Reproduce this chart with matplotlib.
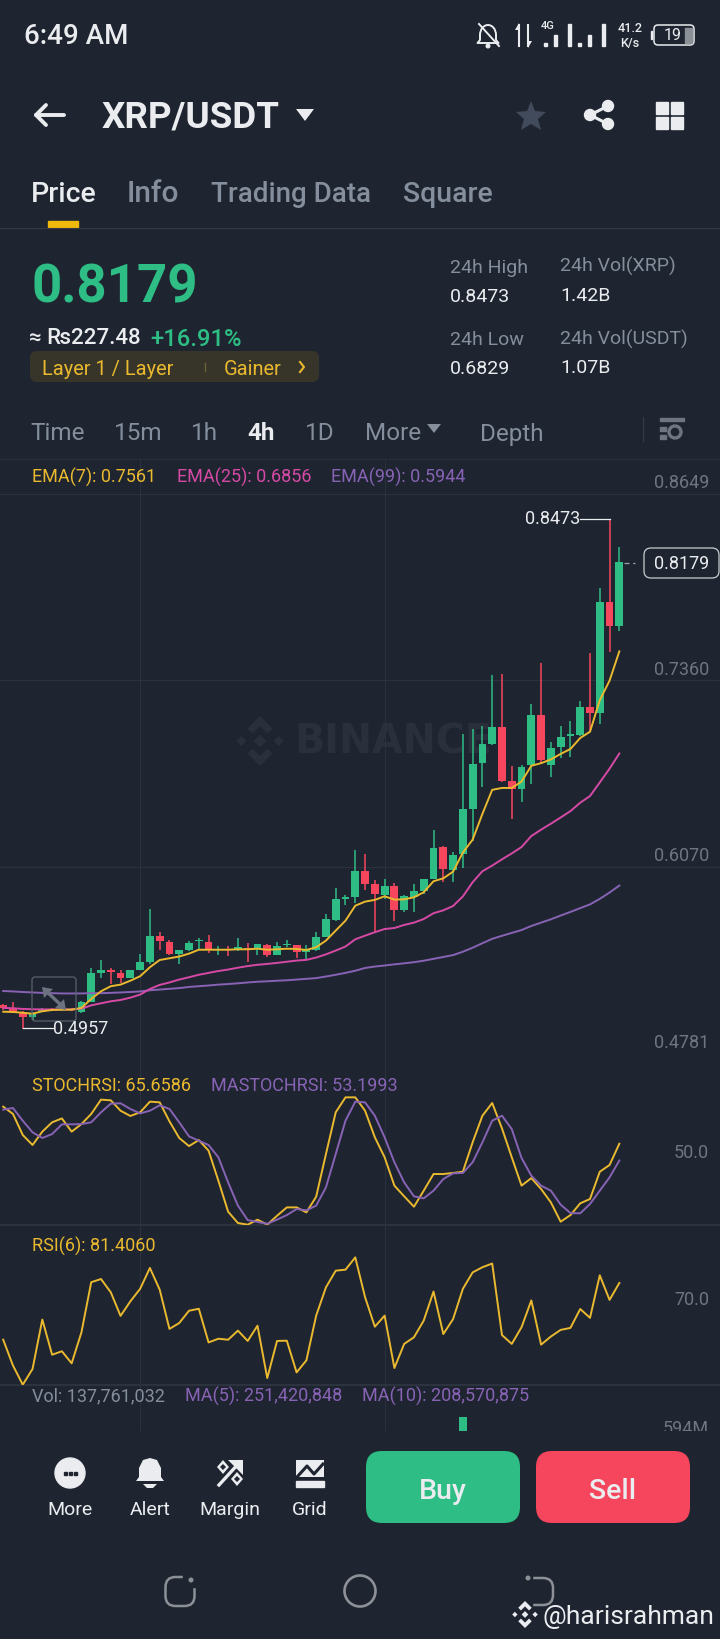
import matplotlib
matplotlib.use("Agg")
import matplotlib.pyplot as plt
from matplotlib.patches import Circle, FancyBboxPatch, Polygon, Rectangle, Arc

# candles, oldest first
opens = [.5116, .5100, .5064, .5037, .5078, .5092, .5085, .5092, .5069, .5138, .5340, .5363, .5343, .5306, .5361, .5414,
         .5594, .5552, .5470, .5499, .5558, .5552, .5497, .5508, .5501, .5515, .5513, .5536, .5465, .5532, .5532, .5486,
         .5497, .5591, .5708, .5851, .5867, .6047, .5957, .5881, .5941, .5773, .5867, .5904, .5990, .6213, .6054, .6159,
         .6473, .6790, .6922, .7040, .6669, .6611, .6779, .7124, .6777, .6899, .6974, .6984, .7178, .7137, .7901, .7737]
highs = [.5126, .5138, .5078, .5071, .5096, .5096, .5096, .5096, .5149, .5375, .5428, .5375, .5363, .5363, .5469, .5783,
         .5626, .5570, .5499, .5561, .5580, .5603, .5529, .5525, .5580, .5550, .5543, .5541, .5557, .5568, .5537, .5536,
         .5622, .5748, .5925, .5881, .6190, .6162, .5985, .5990, .5962, .5879, .5957, .5987, .6330, .6217, .6174, .6988,
         .7027, .7047, .7398, .7408, .6770, .6774, .7200, .7479, .6933, .7047, .7078, .7219, .7551, .7998, .8473, .8279]
lows = [.5085, .5071, .4957, .5016, .5073, .5080, .5080, .5078, .5064, .5138, .5304, .5264, .5271, .5306, .5361, .5403,
        .5499, .5467, .5405, .5492, .5501, .5479, .5465, .5458, .5492, .5414, .5465, .5453, .5465, .5518, .5444, .5435,
        .5492, .5587, .5701, .5810, .5824, .5916, .5617, .5851, .5701, .5764, .5759, .5886, .5990, .5971, .5971, .6064,
        .6253, .6626, .6917, .6662, .6401, .6521, .6644, .6790, .6692, .6823, .6830, .6980, .7002, .7058, .7556, .7704]
closes = [.5102, .5073, .5037, .5060, .5092, .5085, .5092, .5083, .5138, .5340, .5361, .5345, .5308, .5363, .5418, .5596,
          .5559, .5472, .5499, .5550, .5565, .5501, .5506, .5499, .5520, .5508, .5539, .5467, .5527, .5543, .5483, .5508,
          .5591, .5711, .5851, .5863, .6047, .5957, .5884, .5943, .5776, .5874, .5904, .5987, .6206, .6059, .6157, .6470,
          .6784, .6922, .7040, .6669, .6611, .6764, .7124, .6810, .6897, .6969, .6987, .7178, .7137, .7901, .7737, .8179]

ema7 = [.5073, .5071, .5066, .5059, .5076, .5085, .5087, .5087, .5099, .5161, .5214, .5249, .5260, .5287, .5318, .5380,
        .5430, .5442, .5454, .5474, .5501, .5501, .5501, .5501, .5504, .5504, .5508, .5501, .5504, .5508, .5506, .5499,
        .5518, .5564, .5633, .5702, .5805, .5833, .5845, .5870, .5847, .5849, .5863, .5898, .5974, .5994, .6040, .6172,
        .6261, .6439, .6605, .6618, .6618, .6662, .6771, .6789, .6815, .6853, .6887, .6963, .7006, .7224, .7359, .7561]
ema25 = [.5099, .5097, .5092, .5090, .5089, .5089, .5089, .5089, .5094, .5117, .5131, .5145, .5154, .5170, .5191, .5230,
         .5258, .5275, .5295, .5311, .5328, .5341, .5354, .5364, .5377, .5388, .5397, .5403, .5410, .5418, .5426, .5431,
         .5447, .5469, .5495, .5523, .5573, .5598, .5622, .5644, .5651, .5672, .5688, .5713, .5753, .5773, .5803, .5869,
         .5967, .6043, .6082, .6125, .6166, .6210, .6286, .6330, .6371, .6414, .6458, .6516, .6562, .6656, .6751, .6856]
ema99 = [.5216, .5213, .5209, .5206, .5203, .5201, .5199, .5199, .5199, .5201, .5201, .5203, .5206, .5209, .5213, .5221,
         .5226, .5231, .5236, .5244, .5249, .5254, .5260, .5264, .5269, .5275, .5280, .5283, .5287, .5290, .5295, .5300,
         .5305, .5316, .5328, .5341, .5356, .5375, .5385, .5392, .5400, .5407, .5415, .5425, .5438, .5451, .5464, .5487,
         .5515, .5546, .5576, .5597, .5617, .5637, .5665, .5688, .5711, .5737, .5762, .5788, .5814, .5852, .5896, .5944]

stochrsi = [93.1, 87.7, 72.1, 64.7, 74.6, 81.5, 84.4, 74.6, 80.2, 87.7, 98.3, 97.8, 90.1, 86.2, 88.9, 96.8,
            96.3, 82.2, 69.9, 63.9, 68.4, 60.5, 38.3, 15.3, 6.9, 5.7, 9.4, 5.7, 12.3, 18.5, 18.5, 14.8,
            26.4, 58.0, 88.9, 100, 100, 90.1, 70.4, 55.6, 34.6, 26.7, 19.0, 30.9, 43.2, 43.2, 44.0, 44.9,
            66.7, 86.4, 95.8, 77.0, 55.6, 34.6, 40.2, 32.1, 22.2, 7.9, 12.8, 21.5, 24.7, 44.9, 49.9, 65.66]
mastochrsi = [90.9, 92.1, 82.7, 74.1, 69.9, 72.8, 80.0, 80.0, 80.2, 81.5, 88.9, 95.3, 95.6, 91.4, 88.1, 90.1,
              94.1, 91.4, 81.5, 71.1, 67.9, 64.7, 55.6, 37.0, 19.8, 9.1, 7.7, 6.4, 9.4, 12.8, 17.3, 16.3,
              19.8, 33.3, 58.0, 82.7, 96.8, 96.3, 86.4, 70.4, 51.9, 37.0, 26.7, 25.2, 30.9, 39.5, 43.7, 44.0,
              51.9, 66.7, 82.7, 86.4, 76.5, 55.1, 42.0, 34.6, 30.9, 20.5, 14.3, 14.1, 21.0, 30.9, 40.7, 53.2]
rsi6 = [58.3, 47.8, 40.0, 46.4, 66.5, 52.2, 53.6, 48.7, 61.3, 81.7, 83.0, 77.6, 68.0, 73.9, 79.0, 87.5,
        78.7, 62.7, 65.1, 70.1, 70.9, 57.2, 58.7, 58.3, 62.0, 57.8, 64.0, 42.7, 57.8, 57.9, 45.0, 49.9,
        68.1, 79.6, 86.4, 86.8, 91.8, 75.6, 63.6, 68.1, 46.8, 56.6, 59.3, 66.1, 77.9, 60.6, 66.7, 79.0,
        85.7, 87.8, 89.3, 60.2, 56.6, 63.4, 74.3, 56.3, 59.6, 62.3, 63.1, 70.8, 67.2, 84.5, 74.5, 81.4]

# only this one volume bar shows above the bottom bar
vol_index = [47]
vol_values = [800e6]

price_ticks = [.8649, .7360, .6070, .4781]
price_labels = ["0.8649", "0.7360", "0.6070", "0.4781"]
cross_index = [14, 39]

BG = "#1e2530"
GRID = "#2c323d"
GREEN = "#2ebd85"
RED = "#f6465d"
YELLOW = "#eab92f"
PINK = "#d64aa6"
PURPLE = "#8863b5"
GREY = "#848e9c"
DIM = "#6f7682"
WHITE = "#eaecef"

plt.rcParams["font.family"] = ["Roboto", "DejaVu Sans"]

W, H = 720, 1640
fig = plt.figure(figsize=(7.2, 16.4), dpi=100, facecolor=BG)


def px_axes(top, bottom, z):
    return fig.add_axes([0, 1 - bottom / H, 1, (bottom - top) / H], zorder=z)


def pane(top, bottom, ylim):
    ax = px_axes(top, bottom, 2)
    ax.patch.set_alpha(0)
    # candle i sits at 3.2 + 9.78 * i pixels
    ax.set_xlim(-3.2 / 9.78, (W - 3.2) / 9.78)
    ax.set_ylim(*ylim)
    ax.set_xticks(cross_index)
    ax.set_xticklabels([])
    ax.tick_params(length=0, labelleft=False)
    ax.grid(axis="x", color=GRID, lw=0.8)
    for side in ax.spines:
        ax.spines[side].set_visible(False)
    ax.set_axisbelow(True)
    return ax


bg = px_axes(0, H, 0)
bg.set_xlim(0, W)
bg.set_ylim(H, 0)
bg.axis("off")
ui = px_axes(0, H, 3)
ui.set_xlim(0, W)
ui.set_ylim(H, 0)
ui.axis("off")
ui.patch.set_alpha(0)


def txt(x, y, s, size, color=WHITE, ha="left", weight="normal", ax=ui, **kw):
    ax.text(x, y, s, fontsize=size, color=color, ha=ha, va="center", fontweight=weight, **kw)


def poly(ax, pts, color, **kw):
    ax.add_patch(Polygon(pts, closed=True, facecolor=color, edgecolor="none", **kw))


def logo(ax, cx, cy, r, color):
    parts = [[(0, -.25), (.25, 0), (0, .25), (-.25, 0)],
             [(-.75, -.2), (-.55, 0), (-.75, .2), (-.95, 0)],
             [(.75, -.2), (.95, 0), (.75, .2), (.55, 0)],
             [(0, -1), (.5, -.5), (.3, -.3), (0, -.6), (-.3, -.3), (-.5, -.5)],
             [(0, 1), (.5, .5), (.3, .3), (0, .6), (-.3, .3), (-.5, .5)]]
    for part in parts:
        poly(ax, [(cx + a * r, cy + b * r) for a, b in part], color)


# price pane
price = pane(460, 1055, (0.4781, 1.2065 - 0.0006904 * 460))
price.set_yticks(price_ticks)
price.set_yticklabels([])
price.grid(axis="y", color=GRID, lw=0.9)
for i in range(len(opens)):
    col = GREEN if closes[i] >= opens[i] else RED
    price.vlines(i, lows[i], highs[i], color=col, lw=1.1, zorder=3)
    price.bar(i, abs(closes[i] - opens[i]), bottom=min(opens[i], closes[i]), width=0.8, color=col, zorder=3)
xs = range(len(ema7))
price.plot(xs, ema99, color=PURPLE, lw=1.4, zorder=4)
price.plot(xs, ema25, color=PINK, lw=1.4, zorder=4)
price.plot(xs, ema7, color=YELLOW, lw=1.4, zorder=4)

# stoch rsi
stoch = pane(1055, 1225.7, (5.68, 132.1))
stoch.plot(xs, stochrsi, color=YELLOW, lw=1.4, zorder=3)
stoch.plot(xs, mastochrsi, color=PURPLE, lw=1.4, zorder=3)
stoch.spines["bottom"].set_visible(True)
stoch.spines["bottom"].set_color("#313844")
stoch.spines["bottom"].set_linewidth(1.1)

# rsi
rsi = pane(1225.7, 1385.7, (40.0, 105.1))
rsi.plot(xs, rsi6, color=YELLOW, lw=1.4, zorder=3)
rsi.spines["bottom"].set_visible(True)
rsi.spines["bottom"].set_color("#313844")
rsi.spines["bottom"].set_linewidth(1.1)

# volume, cut off by the bottom bar
vol = pane(1385.7, 1432, (680e6, 1075e6))
vol.bar(vol_index, vol_values, width=0.8, color=GREEN, zorder=3)
t594 = vol.annotate("594M", xy=(1, 0), xycoords="axes fraction", xytext=(-8, 2), textcoords="offset points",
                    fontsize=13, color=DIM, ha="right", va="center", annotation_clip=False)
t594.set_clip_on(True)
t594.set_clip_path(vol.patch)

# top separators
ui.plot([0, W], [228.5, 228.5], color="#343b47", lw=0.8)
ui.plot([0, W], [460, 460], color="#2a303b", lw=0.9)

# watermark
logo(bg, 260, 742, 25, "#2a303b")
txt(294, 743, "BINANCE", 28.5, "#2a303b", weight="bold", ax=bg, family="DejaVu Sans")

# status bar
txt(24, 37, "6:49 AM", 20, WHITE, weight="medium")
ui.add_patch(Arc((488, 36), 16, 20, theta1=180, theta2=360, color=WHITE, lw=1.4))
ui.plot([480, 480, 477.5, 498.5, 496, 496], [36, 41, 44, 44, 41, 36], color=WHITE, lw=1.4)
ui.add_patch(Circle((488, 47), 1.8, color=WHITE))
ui.plot([479, 499], [25, 47], color=WHITE, lw=1.4)
ui.plot([519, 519], [26, 47], color=WHITE, lw=1.5)
ui.plot([528, 528], [26, 47], color=WHITE, lw=1.5)
poly(ui, [(519, 24), (515, 31), (519, 31)], WHITE)
poly(ui, [(528, 49), (532, 42), (528, 42)], WHITE)
txt(548, 26, "4G", 8, WHITE, ha="center", weight="medium")
for x0 in (544, 578):
    for dx, h in ((0, 3), (10, 11), (24, 22)):
        ui.add_patch(Rectangle((x0 + dx, 47 - h), 2.6, h, color=WHITE))
txt(630, 29, "41.2", 9, WHITE, ha="center", weight="medium")
txt(630, 43, "K/s", 9, WHITE, ha="center", weight="medium")
ui.add_patch(FancyBboxPatch((654, 26), 40, 20, boxstyle="round,pad=0,rounding_size=4", facecolor="none",
                            edgecolor=WHITE, lw=1.1))
ui.add_patch(Rectangle((684.5, 28.5), 7, 15, color="#8b8f96"))
ui.add_patch(Rectangle((650.5, 32), 1.5, 8, color=WHITE))
txt(673, 36, "19", 11.5, WHITE, ha="center")

# header
ui.plot([36, 64], [116, 116], color=WHITE, lw=2.8, solid_capstyle="round")
ui.plot([46, 36, 46], [106, 116, 126], color=WHITE, lw=2.8, solid_capstyle="round", solid_joinstyle="round")
txt(102, 118, "XRP/USDT", 26.5, WHITE, weight="bold")
poly(ui, [(296, 110), (314, 110), (305, 122)], WHITE)
star = [(531, 102), (535, 112), (546, 113), (538, 120), (541, 131), (531, 125), (521, 131), (524, 120), (516, 113), (527, 112)]
poly(ui, star, "#414b5c")
ui.plot([608, 590, 608], [107, 116, 125], color=WHITE, lw=2.2)
for cx, cy in ((608, 107), (590, 116), (608, 125)):
    ui.add_patch(Circle((cx, cy), 5.5, color=WHITE))
for x0, y0 in ((656, 103), (671, 103), (656, 118), (671, 118)):
    ui.add_patch(Rectangle((x0, y0), 12, 12, color=WHITE))

# tabs
txt(31, 194, "Price", 20.5, WHITE, weight="medium")
txt(127, 194, "Info", 21.5, GREY, weight="medium")
txt(211, 194, "Trading Data", 20, GREY, weight="medium")
txt(403, 194, "Square", 20.5, GREY, weight="medium")
ui.add_patch(Rectangle((48, 222), 30, 6, color="#f0b90b"))

# quote block
txt(31, 288, "0.8179", 38, GREEN, weight="bold")
txt(29, 339, "≈ ₨227.48", 16, WHITE, weight="medium")
txt(150, 339, "+16.91%", 17.2, GREEN, weight="medium")
ui.add_patch(FancyBboxPatch((30, 352), 289, 31, boxstyle="round,pad=0,rounding_size=7", facecolor="#37352a", edgecolor="none"))
txt(42, 369.5, "Layer 1 / Layer", 14.4, YELLOW)
ui.plot([204.5, 204.5], [364, 372], color="#6b6135", lw=1)
txt(224, 369.5, "Gainer", 14.4, YELLOW)
ui.plot([300, 304, 300], [363, 368, 373], color=YELLOW, lw=1.5)

txt(450, 268, "24h High", 14, GREY)
txt(450, 297, "0.8473", 14, WHITE)
txt(450, 340, "24h Low", 14, GREY)
txt(450, 369, "0.6829", 14, WHITE)
txt(560, 266, "24h Vol(XRP)", 14, GREY)
txt(560, 296, "1.42B", 14, WHITE)
txt(560, 339, "24h Vol(USDT)", 14, GREY)
txt(560, 368, "1.07B", 14, WHITE)

# interval row
txt(30, 434, "Time", 17.5, GREY)
txt(114, 434, "15m", 17.5, GREY)
txt(191, 434, "1h", 17.5, GREY)
txt(247, 434, "4h", 17.5, WHITE, weight="bold")
txt(305, 434, "1D", 17.5, GREY)
txt(365, 434, "More", 17.5, GREY)
poly(ui, [(427, 425), (441, 425), (434, 434)], GREY)
txt(480, 434, "Depth", 17.5, GREY)
ui.plot([643, 643], [418, 442], color="#343b47", lw=0.9)
ui.add_patch(Rectangle((660, 419), 24, 3, color=DIM))
ui.add_patch(Rectangle((660, 428), 6, 4, color=DIM))
ui.add_patch(Rectangle((660, 436), 6, 4, color=DIM))
ui.add_patch(Circle((675, 433), 6, facecolor="none", edgecolor=DIM, lw=2.4))

# indicator legends
txt(32, 477, "EMA(7): 0.7561", 13, YELLOW)
txt(177, 477, "EMA(25): 0.6856", 13, PINK)
txt(331, 477, "EMA(99): 0.5944", 13, PURPLE)
txt(32, 1086, "STOCHRSI: 65.6586", 13, YELLOW)
txt(211, 1086, "MASTOCHRSI: 53.1993", 13, PURPLE)
txt(32, 1246, "RSI(6): 81.4060", 13, YELLOW)
txt(32, 1396, "Vol: 137,761,032", 13, GREY)
txt(185, 1396, "MA(5): 251,420,848", 13, PURPLE)
txt(362, 1396, "MA(10): 208,570,875", 13, PURPLE)

# right hand scale
for lab, y in zip(price_labels, (483, 670.4, 856.5, 1043.3)):
    txt(709, y, lab, 13, DIM, ha="right")
txt(709, 1152.7, "50.0", 13, DIM, ha="right")
txt(709, 1300, "70.0", 13, DIM, ha="right")

# high / low / last price markers
txt(525, 519, "0.8473", 13, WHITE)
ui.plot([580, 610], [520, 520], color=WHITE, lw=0.9)
txt(53, 1029, "0.4957", 13, WHITE)
ui.plot([23, 53], [1029.3, 1029.3], color=WHITE, lw=0.9)
ui.plot([624, 635], [564, 564], color="#9aa0a8", lw=0.9, ls=(0, (4, 3)))
ui.add_patch(FancyBboxPatch((644, 549), 75, 30, boxstyle="round,pad=0,rounding_size=7", facecolor=BG, edgecolor="#c9ccd1", lw=0.9))
txt(681.5, 564, "0.8179", 13, WHITE, ha="center")

# scroll button
ui.add_patch(FancyBboxPatch((32, 978), 44, 44, boxstyle="round,pad=0,rounding_size=3", facecolor="none", edgecolor="#5b616c", lw=0.9))
ui.plot([46, 62], [992, 1007], color="#6c7280", lw=2.4)
poly(ui, [(42, 988), (53, 990), (44, 999)], "#6c7280")
poly(ui, [(66, 1011), (55, 1009), (64, 1000)], "#6c7280")

# bottom bar
ui.add_patch(Circle((70, 1474), 15, color=WHITE))
for dx in (-5, 0, 5):
    ui.add_patch(Rectangle((70 + dx - 1.5, 1472.5), 3, 3, color=BG))
bell = [(136, 1482), (139, 1478), (139, 1469), (143, 1461), (150, 1459), (157, 1461), (161, 1469), (161, 1478), (164, 1482)]
poly(ui, bell, WHITE)
poly(ui, [(143, 1485), (157, 1485), (153, 1489), (147, 1489)], WHITE)
ui.plot([219, 240], [1486, 1463], color=WHITE, lw=2.4)
poly(ui, [(228, 1461), (243, 1461), (243, 1476)], WHITE)
poly(ui, [(223, 1461), (229, 1468), (223, 1475), (217, 1468)], WHITE)
poly(ui, [(223, 1465), (226, 1468), (223, 1471), (220, 1468)], BG)
poly(ui, [(237, 1473), (243, 1480), (237, 1487), (231, 1480)], WHITE)
poly(ui, [(237, 1477), (240, 1480), (237, 1483), (234, 1480)], BG)
poly(ui, [(296, 1461), (324, 1461), (324, 1478), (296, 1478)], WHITE)
ui.plot([297, 307, 314, 323], [1478, 1467, 1475, 1465], color=BG, lw=2.2)
ui.add_patch(Rectangle((296, 1482), 28, 6, color=WHITE))
txt(70, 1510, "More", 14, WHITE, ha="center")
txt(150, 1510, "Alert", 14, WHITE, ha="center")
txt(230, 1510, "Margin", 14, WHITE, ha="center")
txt(309.5, 1510, "Grid", 14, WHITE, ha="center")
ui.add_patch(FancyBboxPatch((366, 1452), 154, 72, boxstyle="round,pad=0,rounding_size=16", facecolor=GREEN, edgecolor="none"))
ui.add_patch(FancyBboxPatch((536, 1452), 154, 72, boxstyle="round,pad=0,rounding_size=16", facecolor=RED, edgecolor="none"))
txt(443, 1492, "Buy", 20.5, WHITE, ha="center", weight="medium")
txt(613, 1492, "Sell", 20.5, WHITE, ha="center", weight="medium")

# navigation bar
NAV = "#8d9197"
ui.add_patch(FancyBboxPatch((165.5, 1578), 29, 29, boxstyle="round,pad=0,rounding_size=10", facecolor="none", edgecolor=NAV, lw=1.8))
ui.add_patch(Rectangle((183, 1575), 14, 13, color=BG))
ui.add_patch(Circle((191, 1581), 1.8, color=NAV))
ui.add_patch(Circle((360, 1592), 15.5, facecolor="none", edgecolor=NAV, lw=1.9))
ui.add_patch(FancyBboxPatch((520, 1579), 33, 27, boxstyle="round,pad=0,rounding_size=10", facecolor="none", edgecolor=NAV, lw=1.8))
ui.add_patch(Rectangle((516, 1575), 16, 36, color=BG))
ui.add_patch(Circle((528, 1579), 1.8, color=NAV))

# watermark of the post
logo(ui, 525, 1615.5, 13.5, WHITE)
txt(543, 1617, "@harisrahman", 19, WHITE)

fig.savefig("out.png", dpi=100, facecolor=BG)
